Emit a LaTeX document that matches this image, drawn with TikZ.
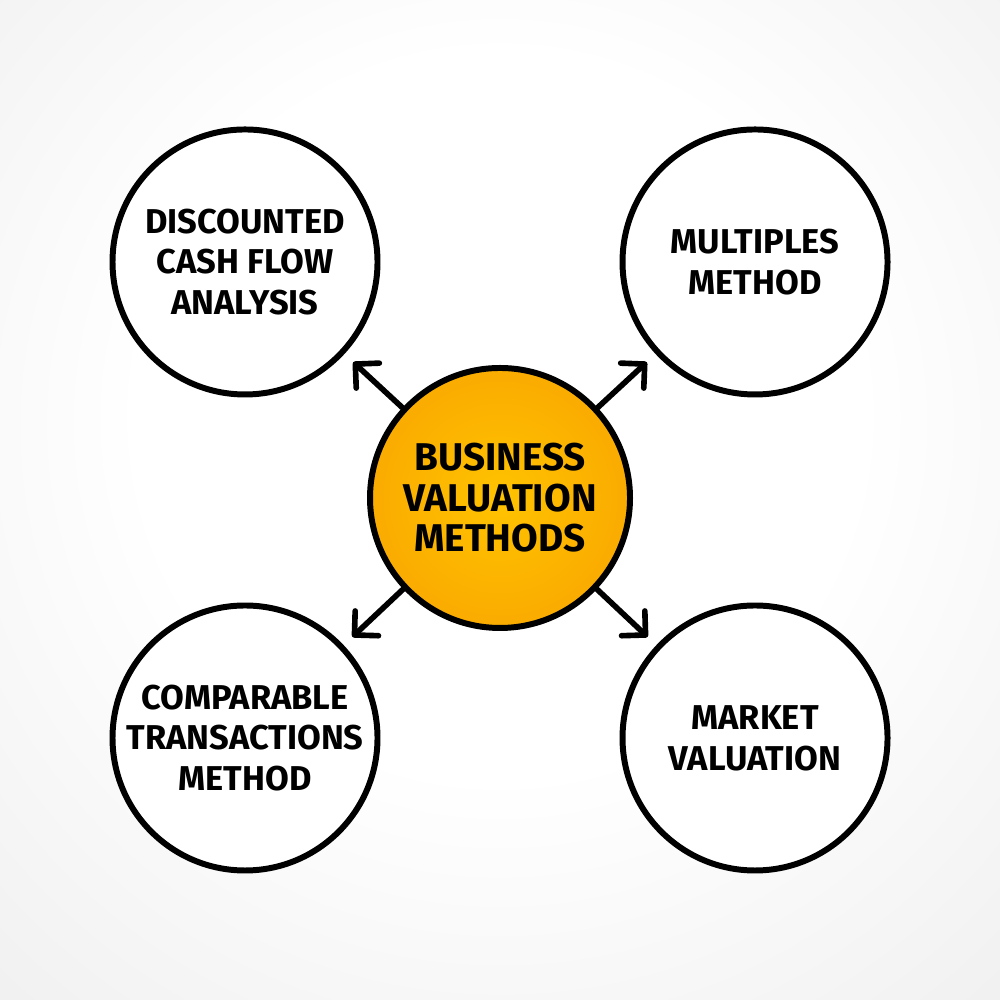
\documentclass[tikz,border=0pt]{standalone}
\usepackage{fontspec}
\setmainfont{Fira Sans}
\usetikzlibrary{arrows.meta}

\definecolor{paperedge}{HTML}{DEDEDE}
\definecolor{orangemid}{HTML}{FFC300}
\definecolor{orangerim}{HTML}{F59300}

\pgfdeclareradialshading{paper}{\pgfpoint{0bp}{6bp}}{color(0bp)=(white); color(18bp)=(white); color(62bp)=(paperedge)}
\pgfdeclareradialshading{ball}{\pgfpoint{0bp}{0bp}}{color(0bp)=(orangemid); color(50bp)=(orangerim)}

\tikzset{
	topic/.style={circle, draw=black, line width=1.7pt, fill=white, minimum size=2.65cm, inner sep=0pt, align=center, font=\fontsize{9.8}{11.6}\selectfont\bfseries},
	hub/.style={topic, minimum size=2.6cm, shading=ball, font=\fontsize{11}{11.5}\selectfont\bfseries},
	link/.style={line width=1.6pt, line cap=round, -{Straight Barb[length=1.7mm,width=3.4mm,round]}, shorten >=1.2mm}
}

\begin{document}
\begin{tikzpicture}
		% background
		\path[shading=paper] (0,0) rectangle (10,10);
		
		\node[hub] (bvm) at (5,5.02) {BUSINESS\\VALUATION\\METHODS};
		
		\node[topic] (dcf) at (2.45,7.38) {DISCOUNTED\\CASH FLOW\\ANALYSIS};
		\node[topic] (mult) at (7.55,7.38) {MULTIPLES\\METHOD};
		\node[topic] (comp) at (2.45,2.62) {COMPARABLE\\TRANSACTIONS\\METHOD};
		\node[topic] (mkt) at (7.55,2.62) {MARKET\\VALUATION};
		
		% arrows
		\draw[link] (bvm) -- (dcf);
		\draw[link] (bvm) -- (mult);
		\draw[link] (bvm) -- (comp);
		\draw[link] (bvm) -- (mkt);
\end{tikzpicture}
\end{document}
